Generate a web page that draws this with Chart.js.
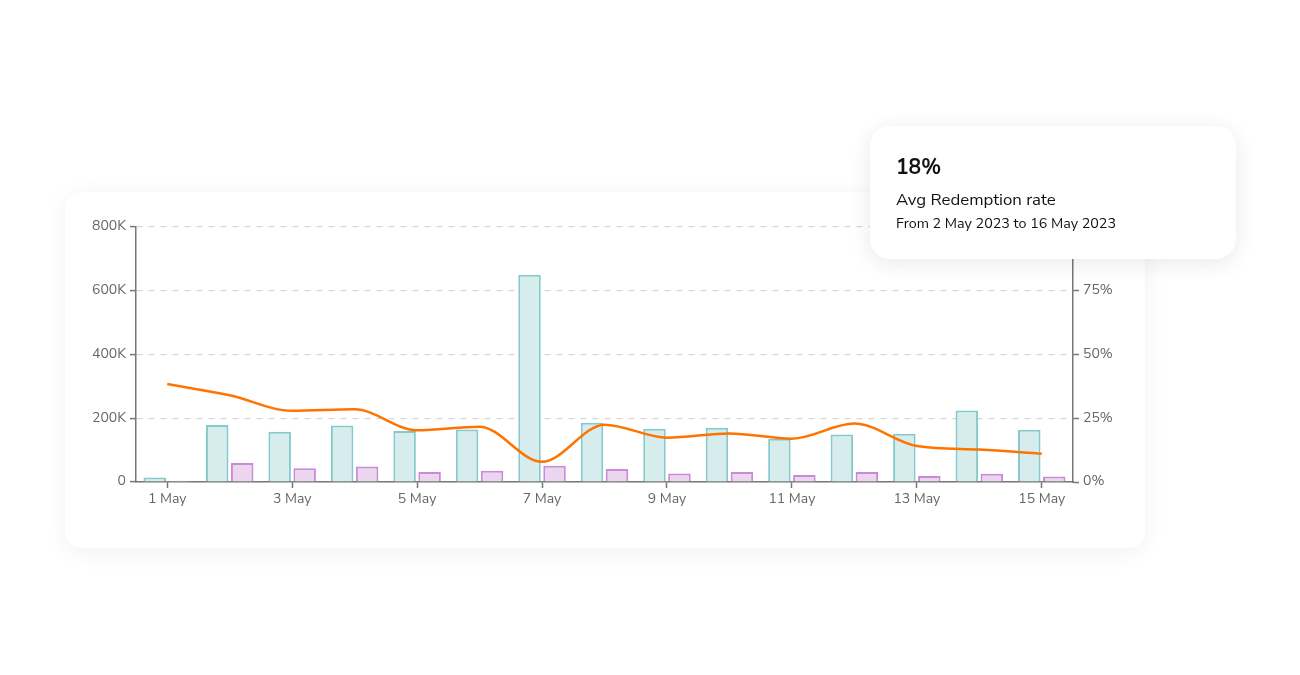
<!DOCTYPE html>
<html>
<head>
<meta charset="utf-8">
<script src="https://cdn.jsdelivr.net/npm/chart.js@4.4.0/dist/chart.umd.min.js"></script>
<style>
  html, body { margin: 0; padding: 0; background: #fff; width: 1300px; height: 675px; overflow: hidden; }
  body { position: relative; font-family: "Nunito Sans", Lato, "Noto Sans", sans-serif; }
  .card {
    position: absolute; left: 65px; top: 192px; width: 1080px; height: 356px;
    background: #fff; border-radius: 16px;
    box-shadow: 0 4px 24px rgba(0, 0, 0, 0.06);
  }
  .card canvas { position: absolute; left: 0; top: 0; }
  .info {
    position: absolute; left: 870px; top: 126px; width: 366px; height: 133px;
    background: #fff; border-radius: 20px;
    box-shadow: 0 4px 22px rgba(0, 0, 0, 0.09);
    color: #111;
  }
  .info .big { position: absolute; left: 26px; top: 27px; font-size: 21px; font-weight: 700; }
  .info .name { position: absolute; left: 26px; top: 62px; font-size: 16.8px; }
  .info .range { position: absolute; left: 26px; top: 88px; font-size: 14.3px; }
</style>
</head>
<body>
<div class="card"><canvas id="myChart" width="1080" height="356"></canvas></div>
<div class="info">
  <div class="big">18%</div>
  <div class="name">Avg Redemption rate</div>
  <div class="range">From 2 May 2023 to 16 May 2023</div>
</div>
<script>
const days = ['1 May', '2 May', '3 May', '4 May', '5 May', '6 May', '7 May', '8 May',
    '9 May', '10 May', '11 May', '12 May', '13 May', '14 May', '15 May'];
const issued = [14000, 179000, 158000, 177000, 160000, 165000, 650000, 186000,
    167000, 170000, 136000, 149000, 151000, 224000, 164000];
const redeemed = [4000, 60000, 43000, 49000, 31000, 35000, 51000, 41000,
    27000, 31000, 22000, 31000, 19000, 26000, 17000];
const rate = [38.4, 34, 27.9, 28.5, 20.3, 21.7, 7.9, 22.5, 17.4, 19, 17, 22.9, 14.1, 12.7, 11.1];

const axisGrey = '#777';
const textGrey = '#666';
const fontFamily = '"Nunito Sans", Lato, "Noto Sans", sans-serif';

const ctx = document.getElementById('myChart').getContext('2d');
const chart = new Chart(ctx, {
    data: {
        labels: days,
        datasets: [
            {
                type: 'line',
                data: rate,
                yAxisID: 'y1',
                borderColor: '#ff7300',
                borderWidth: 2.5,
                pointRadius: 0,
                cubicInterpolationMode: 'monotone',
                fill: false,
                order: 0,
            },
            {
                type: 'bar',
                data: issued,
                yAxisID: 'y',
                backgroundColor: '#d7eded',
                borderColor: '#84c9cc',
                borderWidth: 2,
                categoryPercentage: 0.8,
                barPercentage: 0.9,
                order: 1,
            },
            {
                type: 'bar',
                data: redeemed,
                yAxisID: 'y',
                backgroundColor: '#ecd6ef',
                borderColor: '#c98ad8',
                borderWidth: 2,
                categoryPercentage: 0.8,
                barPercentage: 0.9,
                order: 1,
            },
        ],
    },
    options: {
        responsive: false,
        animation: false,
        layout: { padding: { top: 35, left: 0, right: 0, bottom: 0 } },
        plugins: { legend: { display: false }, tooltip: { enabled: false } },
        scales: {
            x: {
                offset: true,
                afterFit: (s) => { s.height = 66; },
                border: { color: axisGrey, width: 1.5 },
                grid: {
                    offset: false,
                    drawOnChartArea: false,
                    tickLength: 6,
                    tickColor: axisGrey,
                    tickWidth: 1.5,
                },
                ticks: {
                    autoSkip: false,
                    maxRotation: 0,
                    padding: 3,
                    color: textGrey,
                    font: { family: fontFamily, size: 14 },
                    // only every second day gets a label and a tick mark
                    callback: (val, i) => (i % 2 === 0 ? days[i] : null),
                },
            },
            y: {
                position: 'left',
                min: 0,
                max: 800000,
                afterFit: (s) => { s.width = 71; },
                border: { color: axisGrey, width: 1.5, dash: [6, 6] },
                grid: {
                    color: '#d6d6d6',
                    lineWidth: 1.2,
                    tickLength: 6,
                    tickColor: axisGrey,
                    tickBorderDash: [],
                    tickWidth: 1.5,
                },
                ticks: {
                    stepSize: 200000,
                    padding: 4,
                    color: textGrey,
                    font: { family: fontFamily, size: 14 },
                    callback: (v) => (v === 0 ? '0' : v / 1000 + 'K'),
                },
            },
            y1: {
                position: 'right',
                min: 0,
                max: 100,
                afterFit: (s) => { s.width = 72; },
                border: { color: axisGrey, width: 1.5 },
                grid: {
                    drawOnChartArea: false,
                    tickLength: 6,
                    tickColor: axisGrey,
                    tickWidth: 1.5,
                },
                ticks: {
                    stepSize: 25,
                    padding: 4,
                    color: textGrey,
                    font: { family: fontFamily, size: 14 },
                    callback: (v) => v + '%',
                },
            },
        },
    },
});
</script>
</body>
</html>
